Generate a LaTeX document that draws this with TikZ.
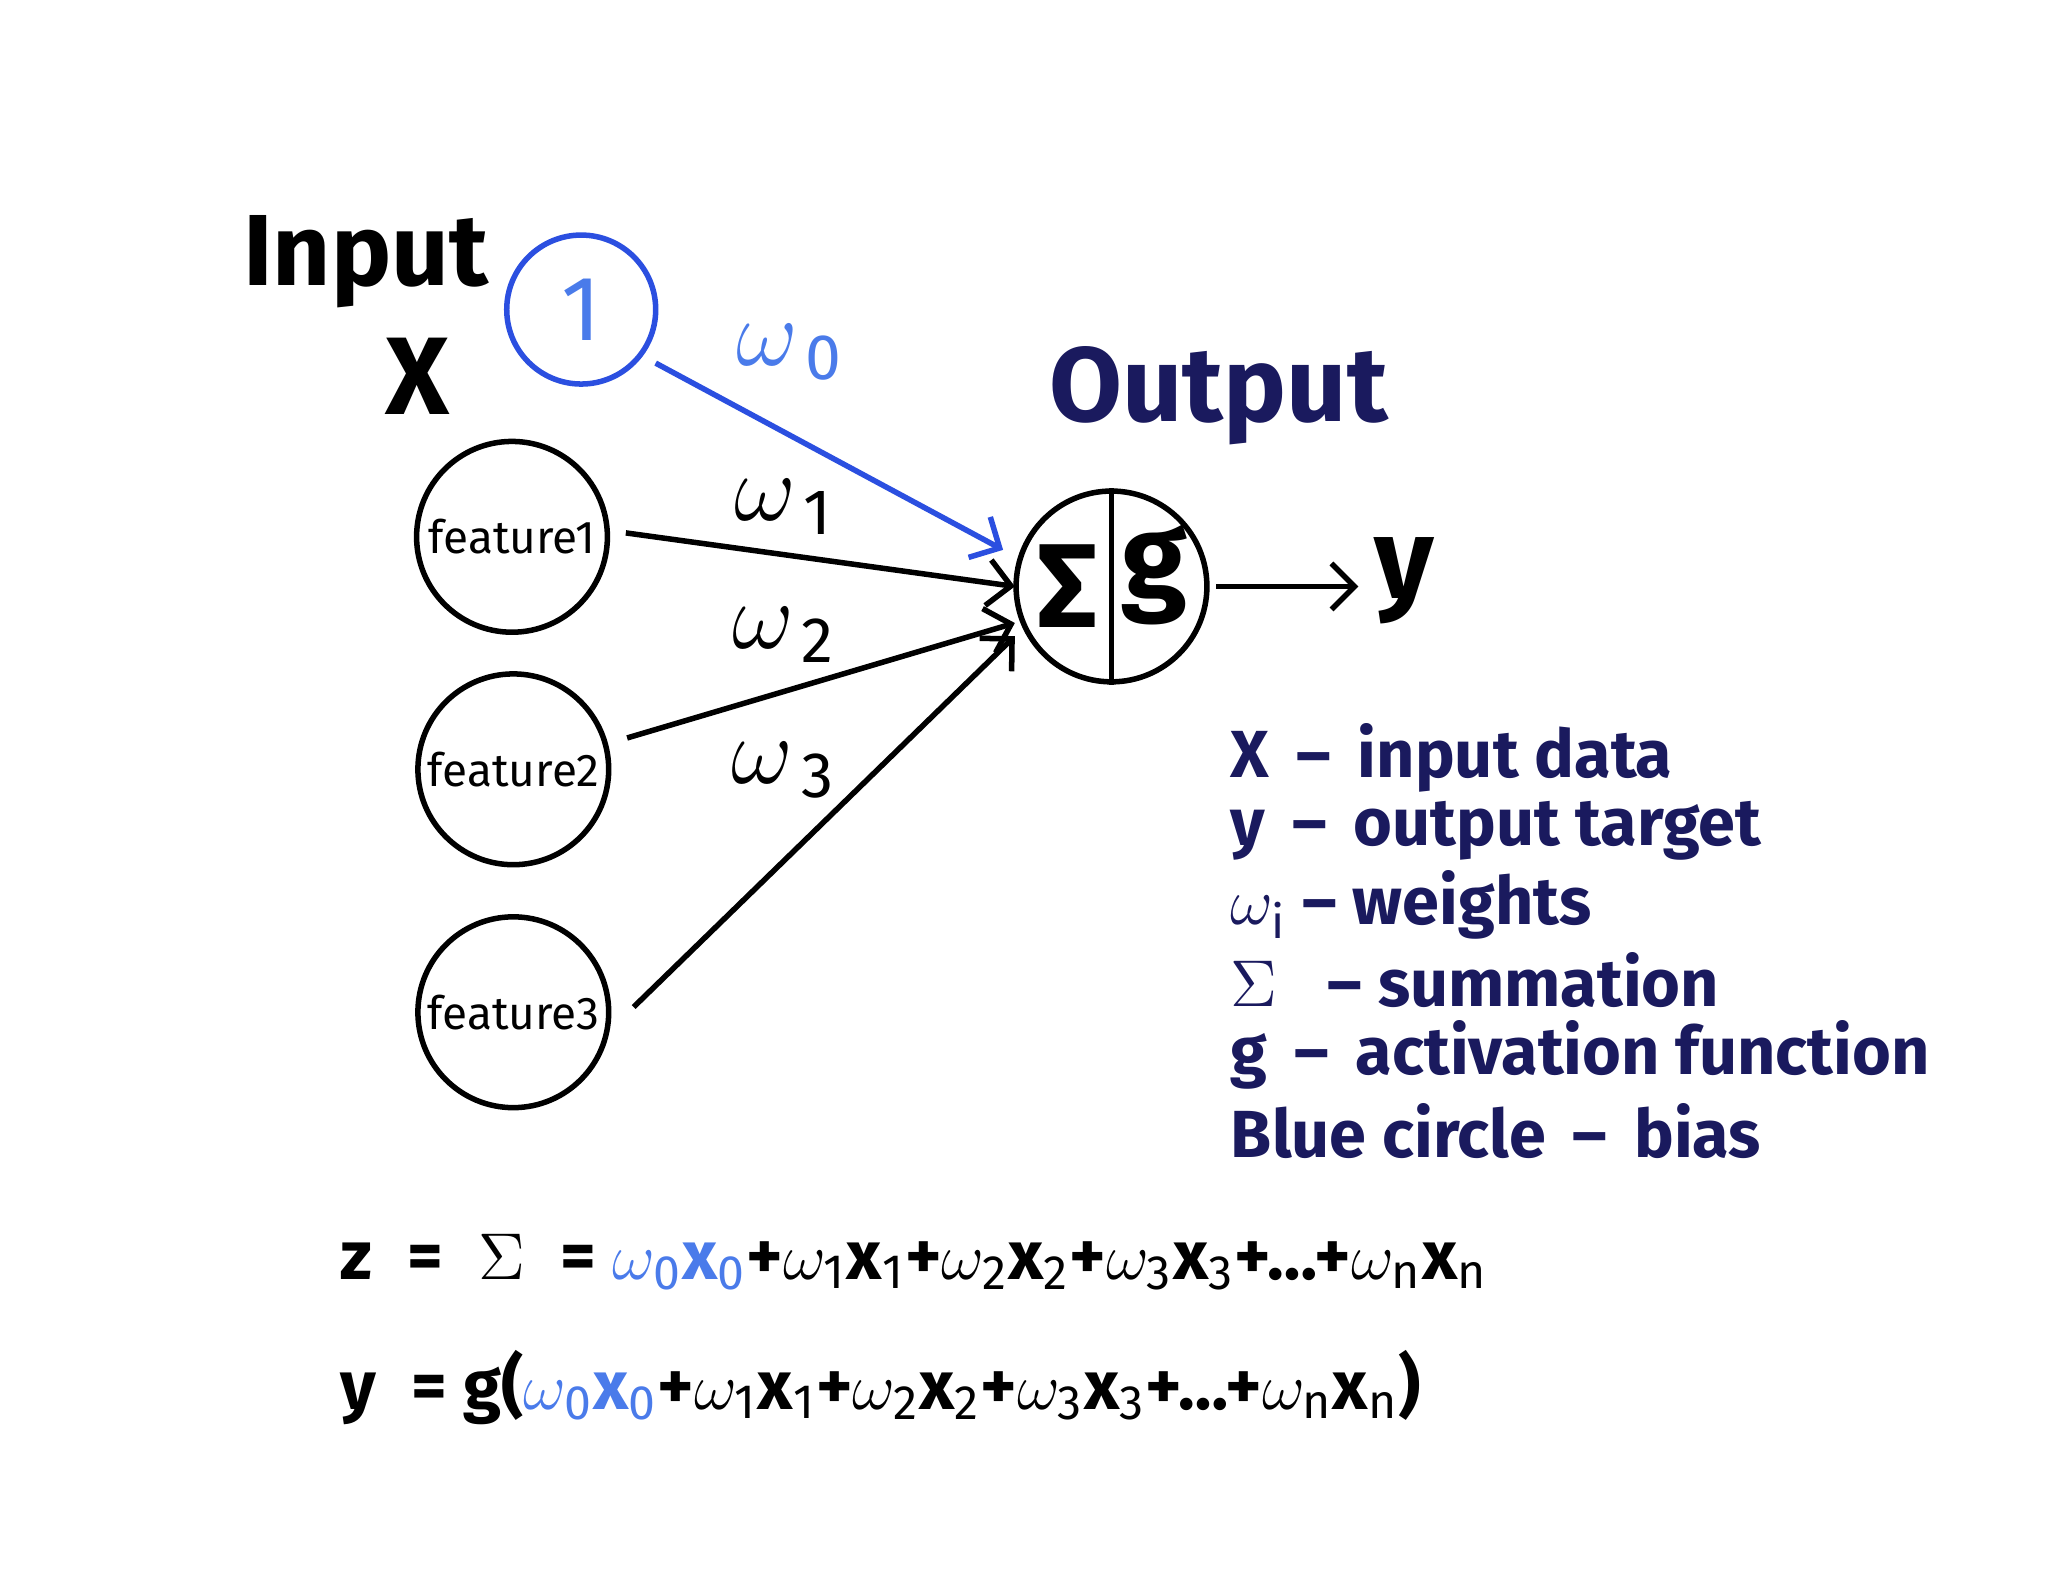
\documentclass[tikz,border=0pt]{standalone}
\usepackage{fontspec}
\setmainfont{Fira Sans}
\usetikzlibrary{arrows.meta}
\definecolor{navy}{HTML}{1A1A5E}
\definecolor{bblue}{HTML}{2B4FE0}
\definecolor{lblue}{HTML}{4A7BEA}
\tikzset{
  feat/.style={draw,circle,line width=1.2pt,minimum size=1.46cm,inner sep=0pt,font=\fontsize{10}{12}\selectfont},
  edge/.style={line width=1.2pt,-{Straight Barb[length=5pt]}},
  wlab/.style={font=\fontsize{20}{22}\selectfont},
  leg/.style={anchor=west,text=navy,font=\fontsize{14.5}{17}\selectfont\bfseries},
  eq/.style={anchor=west,font=\fontsize{15}{18}\selectfont\bfseries}
}
\begin{document}
\begin{tikzpicture}[x=0.01cm,y=-0.01cm]
\useasboundingbox[fill=white] (0,0) rectangle (1568,1212);
\node[font=\fontsize{22}{24}\selectfont\bfseries] (inp) at (280,200) {Input};
\node[font=\fontsize{24}{26}\selectfont\bfseries] (X) at (320,288) {X};
\node[draw=bblue,text=lblue,circle,line width=1.2pt,minimum size=1.14cm,font=\fontsize{20}{22}\selectfont] (b) at (445,237) {1};
\node[feat] (f1) at (392,411) {feature1};
\node[feat] (f2) at (393,589) {feature2};
\node[feat] (f3) at (393,775) {feature3};
\node[draw,circle,line width=1.2pt,minimum size=1.46cm] (n) at (851,449) {};
\draw[line width=1.2pt] (n.north) -- (n.south);
\node[font=\fontsize{26}{28}\selectfont\bfseries] (S) at (817,449) {Σ};
\node[font=\fontsize{26}{28}\selectfont\bfseries] (g) at (884,440) {g};
\node[text=navy,font=\fontsize{23}{25}\selectfont\bfseries] (out) at (933,303) {Output};
\node[font=\fontsize{25}{27}\selectfont\bfseries] (y) at (1075,445) {y};
\coordinate (ye) at (1040,449);
\draw[edge] (n.east) ++(5,0) -- (ye);
\coordinate (b1) at (502,278); \coordinate (b2) at (768,421);
\draw[edge,bblue] (b1) -- (b2);
\draw[edge] (f1.east) ++(12,-3) -- (777,449);
\draw[edge] (f2.east) ++(12,-24) -- (777,477);
\draw[edge] (f3.east) ++(17,-4) -- (777,487);
\node[wlab,text=lblue] (w0) at (605,270) {$\omega_{\,\mathrm{0}}$};
\node[wlab] (w1) at (600,388) {$\omega_{\,\mathrm{1}}$};
\node[wlab] (w2) at (600,486) {$\omega_{\,\mathrm{2}}$};
\node[wlab] (w3) at (600,590) {$\omega_{\,\mathrm{3}}$};
\node[leg] (l1) at (930,580) {X \,– \,input data};
\node[leg] (l2) at (930,636) {y \,– \,output target};
\node[leg] (l3) at (930,693) {$\omega_{\mathrm i}$ – weights};
\node[leg] (l4) at (930,750) {$\Sigma$ \; – summation};
\node[leg] (l5) at (930,808) {g \,– \,activation function};
\node[leg] (l6) at (930,866) {Blue circle \,– \,bias};
\node[eq] (e1) at (248,966) {z \;= \;$\Sigma$ \;= {\color{lblue}$\omega_{\mathrm 0}$x$_{\mathrm 0}$}+$\omega_{\mathrm 1}$x$_{\mathrm 1}$+$\omega_{\mathrm 2}$x$_{\mathrm 2}$+$\omega_{\mathrm 3}$x$_{\mathrm 3}$+…+$\omega_{\mathrm n}$x$_{\mathrm n}$};
\node[eq] (e2) at (248,1062) {y \;= g({\color{lblue}$\omega_{\mathrm 0}$x$_{\mathrm 0}$}+$\omega_{\mathrm 1}$x$_{\mathrm 1}$+$\omega_{\mathrm 2}$x$_{\mathrm 2}$+$\omega_{\mathrm 3}$x$_{\mathrm 3}$+…+$\omega_{\mathrm n}$x$_{\mathrm n}$)};
\end{tikzpicture}
\end{document}
